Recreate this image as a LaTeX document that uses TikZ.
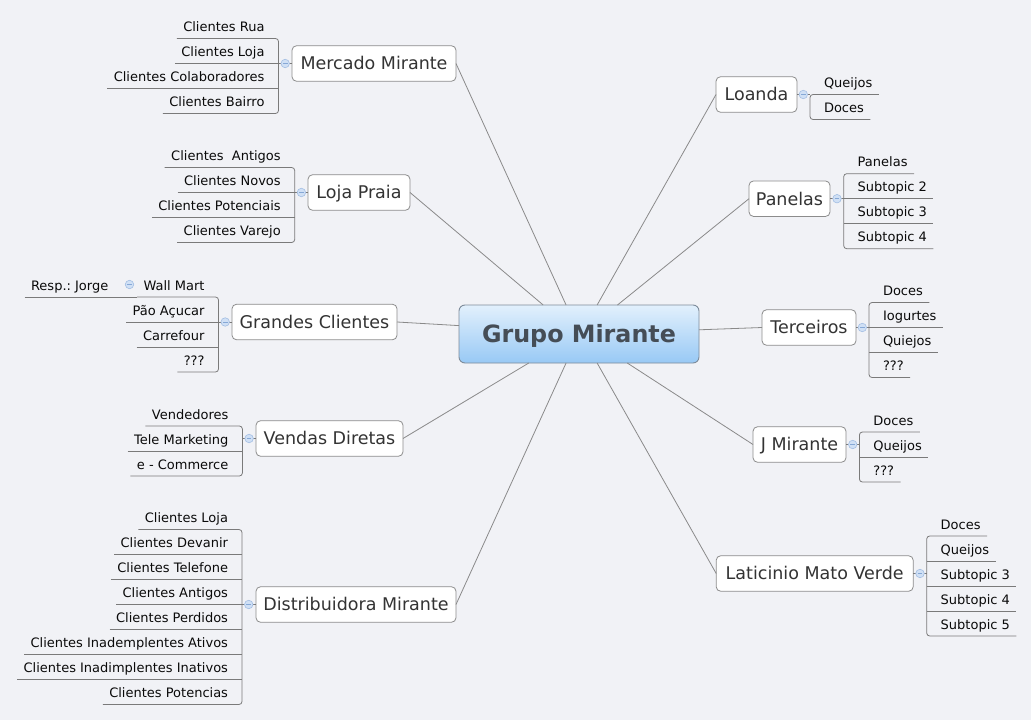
\documentclass[tikz,border=0pt]{standalone}
\usepackage{fontspec}
\setmainfont{DejaVu Sans}
\usetikzlibrary{calc}
\frenchspacing
\definecolor{bgc}{HTML}{F1F2F6}
\definecolor{linec}{HTML}{8A8A8A}
\definecolor{ulc}{HTML}{7A7A7A}
\definecolor{boxc}{HTML}{8C8C8C}
\definecolor{topc}{HTML}{333333}
\definecolor{subc}{HTML}{0A0A0A}
\definecolor{cenc}{HTML}{454D56}
\definecolor{cenb}{HTML}{7D8B9A}
\definecolor{centop}{HTML}{E2F0FC}
\definecolor{cenbot}{HTML}{98C9F5}
\definecolor{colf}{HTML}{D0E0F5}
\definecolor{cold}{HTML}{A3BEE3}
\definecolor{colm}{HTML}{86A8D6}
\newcommand\subfont{\fontsize{13}{15}\selectfont}
\newcommand\topfont{\fontsize{17.5}{20}\selectfont}
\newcommand\cenfont{\fontsize{23.8}{28}\selectfont\bfseries}
\tikzset{
  conn/.style={draw=linec, line width=0.8pt},
  ul/.style={draw=ulc, line width=0.8pt},
  topic/.style={draw=boxc, line width=0.8pt, fill=white, rounded corners=4.5pt, font=\topfont, text=topc,
    minimum height=35.5pt, inner xsep=0pt, inner ysep=0pt, text height=12.8pt, text depth=0pt, outer sep=0pt},
  central/.style={draw=cenb, line width=0.9pt, top color=centop, bottom color=cenbot, rounded corners=6pt,
    font=\cenfont, text=cenc, minimum width=240pt, minimum height=58pt, text height=17.3pt, text depth=0pt,
    inner sep=0pt, outer sep=0pt},
  sub/.style={font=\subfont, text=subc, inner xsep=6.5pt, inner ysep=0pt, text height=10pt, text depth=6.8pt, outer sep=0pt},
  coll/.style={circle, draw=cold, fill=colf, line width=0.6pt, minimum size=8.5pt, inner sep=0pt,
    path picture={\draw[colm, line width=0.7pt] ([xshift=-2.3pt]path picture bounding box.center) -- ([xshift=2.3pt]path picture bounding box.center);}},
}
% #1 parent name, #2 side (1 right, -1 left), #3 bracket x, #4 parent y, #5 count, #6 items
\newcommand\subgroup[6]{%
  \pgfmathsetmacro\gcx{#3-6.7*(#2)}%
  \foreach \t [count=\i] in {#6} {%
    \pgfmathsetmacro\uy{#4-12.5*#5+25*\i}%
    \ifnum#2>0
      \node[sub, anchor=south west] (#1\i) at (#3+7.5,\uy) {\t};
      \ifnum\i>1 \ifnum\i<#5 \draw[ul] ([xshift=-7.5pt]#1\i.south west) -- (#1\i.south east); \fi\fi
    \else
      \node[sub, anchor=south east] (#1\i) at (#3-7.5,\uy) {\t};
      \ifnum\i>1 \ifnum\i<#5 \draw[ul] (#1\i.south west) -- ([xshift=7.5pt]#1\i.south east); \fi\fi
    \fi
  }%
  \ifnum#2>0
    \draw[ul, rounded corners=3pt] (#11.south east) -- ([xshift=-7.5pt]#11.south west) -- ([xshift=-7.5pt]#1#5.south west) -- (#1#5.south east);
  \else
    \draw[ul, rounded corners=3pt] (#11.south west) -- ([xshift=7.5pt]#11.south east) -- ([xshift=7.5pt]#1#5.south east) -- (#1#5.south west);
  \fi
  \coordinate (#1b) at (#3,#4);
  \ifnum#2>0 \draw[ul] (#1.east) -- (#1b); \else \draw[ul] (#1.west) -- (#1b); \fi
  \node[coll] (#1c) at (\gcx,#4) {};
}
\begin{document}
\begin{tikzpicture}[x=1pt, y=-1pt]
\fill[bgc] (0,0) rectangle (1031,720);
\useasboundingbox (0,0) rectangle (1031,720);

\node[central] (gm) at (579,334) {Grupo Mirante};

\node[topic, minimum width=164pt] (mm) at (374,63.5) {Mercado Mirante};
\node[topic, minimum width=102pt] (lp) at (359,192.5) {Loja Praia};
\node[topic, minimum width=165pt] (gc) at (314.5,322) {Grandes Clientes};
\node[topic, minimum width=147pt] (vd) at (329.5,438.5) {Vendas Diretas};
\node[topic, minimum width=200pt] (dm) at (356,604.5) {Distribuidora Mirante};
\node[topic, minimum width=81pt] (lo) at (756.5,94.5) {Loanda};
\node[topic, minimum width=81pt] (pa) at (789.5,198.7) {Panelas};
\node[topic, minimum width=94pt] (te) at (809,327.5) {Terceiros};
\node[topic, minimum width=93pt] (jm) at (799.5,444.5) {J Mirante};
\node[topic, minimum width=197pt] (lm) at (814.7,573.5) {Laticinio Mato Verde};

\draw[conn] (mm.east) -- (gm.114);
\draw[conn] (lp.east) -- (gm.141);
\draw[conn] (gc.east) -- (gm.176);
\draw[conn] (vd.east) -- (gm.210);
\draw[conn] (dm.east) -- (gm.246);
\draw[conn] (lo.west) -- (gm.58);
\draw[conn] (pa.west) -- (gm.37);
\draw[conn] (te.west) -- (gm.2);
\draw[conn] (jm.west) -- (gm.329);
\draw[conn] (lm.west) -- (gm.302);

\subgroup{mm}{-1}{278.5}{63.5}{4}{Clientes Rua, Clientes Loja, Clientes Colaboradores, Clientes Bairro}
\subgroup{lp}{-1}{294.7}{192.5}{4}{Clientes\ \ Antigos, Clientes Novos, Clientes Potenciais, Clientes Varejo}
\subgroup{gc}{-1}{218.5}{322}{4}{Wall Mart, Pão Açucar, Carrefour, ???}
\subgroup{vd}{-1}{242.4}{438.5}{3}{Vendedores, Tele Marketing, e - Commerce}
\subgroup{dm}{-1}{242}{604.5}{8}{Clientes Loja, Clientes Devanir, Clientes Telefone, Clientes Antigos, Clientes Perdidos, Clientes Inademplentes Ativos, Clientes Inadimplentes Inativos, Clientes Potencias}
\subgroup{lo}{1}{810}{94.5}{2}{Queijos, Doces}
\subgroup{pa}{1}{843.7}{198.7}{4}{Panelas, Subtopic 2, Subtopic 3, Subtopic 4}
\subgroup{te}{1}{869}{327.5}{4}{Doces, Iogurtes, Quiejos, ???}
\subgroup{jm}{1}{859.4}{444.5}{3}{Doces, Queijos, ???}
\subgroup{lm}{1}{926.7}{573.5}{5}{Doces, Queijos, Subtopic 3, Subtopic 4, Subtopic 5}

\node[sub, anchor=south east] (rj) at (114.8,297) {Resp.: Jorge};
\draw[ul] (rj.south west) -- (gc1.south west);
\node[coll] (gc1c) at (129.5,284.5) {};
\end{tikzpicture}
\end{document}
